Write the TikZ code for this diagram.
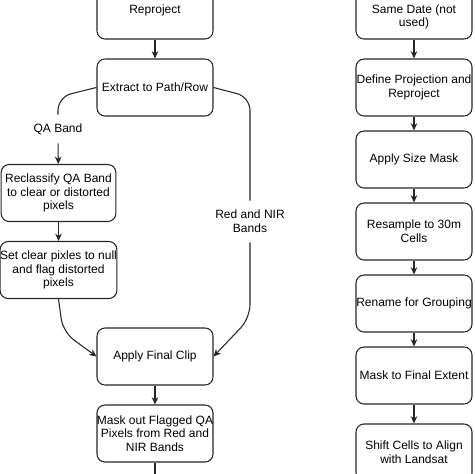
\documentclass[tikz,border=0pt]{standalone}
\usepackage{fontspec}
\setmainfont{Liberation Sans}
\usetikzlibrary{arrows.meta}

\begin{document}
\begin{tikzpicture}[x=0.75pt,y=-0.75pt,font=\fontsize{9}{10.2}\selectfont,
  stepbox/.style={draw=black!85,line width=0.8pt,rounded corners=6pt,minimum width=87pt,minimum height=42.75pt,align=center,inner xsep=0pt},
  lbl/.style={align=center,inner sep=0pt},
  arr/.style={draw=black!85,line width=0.8pt,-{Stealth[length=5.5pt,width=5pt]}},
  link/.style={draw=black!85,line width=0.8pt,rounded corners=10pt}]
\useasboundingbox (0,0) rectangle (474,474);
% left chain
\node[stepbox] (reproj) at (155,10.5) {Reproject};
\node[stepbox] (extract) at (155,87.5) {Extract to Path/Row};
\node[lbl,minimum height=21pt] (qa) at (58,129) {QA Band};
\node[stepbox,minimum width=86pt] (reclass) at (58.5,193) {Reclassify QA Band\\to clear or distorted\\pixels};
\node[stepbox,minimum width=86pt] (setnull) at (58.5,270) {Set clear pixles to null\\and flag distorted\\pixels};
\node[lbl,minimum height=30.75pt] (rednir) at (250,221.5) {Red and NIR\\Bands};
\node[stepbox] (clip) at (155,356.5) {Apply Final Clip};
\node[stepbox] (maskqa) at (155,433.5) {Mask out Flagged QA\\Pixels from Red and\\NIR Bands};
\coordinate (leftout) at (155,495);
% right chain
\node[stepbox] (samedate) at (414,10.5) {};
\node[lbl] at (414,17) {Same Date (not\\used)};
\node[stepbox] (defproj) at (414,87.5) {Define Projection and\\Reproject};
\node[stepbox] (sizemask) at (414,159.5) {Apply Size Mask};
\node[stepbox] (resample) at (414,231.5) {Resample to 30m\\Cells};
\node[stepbox] (rename) at (414,303.5) {Rename for Grouping};
\node[stepbox] (maskext) at (414,375.5) {Mask to Final Extent};
\node[stepbox] (shift) at (414,452.5) {Shift Cells to Align\\with Landsat};

\draw[arr] (reproj) -- (extract);
\draw[link] (extract.west) -- (58,97) -- (qa.north);
\draw[arr] (qa) -- (reclass);
\draw[arr] (reclass) -- (setnull);
\draw[link] (extract.east) -- (250,97) -- (rednir.north);
\draw[link,arr] (setnull.south) -- (63,332) -- (clip.west);
\draw[link,arr] (rednir.south) -- (250,318) -- (clip.east);
\draw[arr] (clip) -- (maskqa);
\draw[arr] (maskqa) -- (leftout);

\draw[arr] (samedate) -- (defproj);
\draw[arr] (defproj) -- (sizemask);
\draw[arr] (sizemask) -- (resample);
\draw[arr] (resample) -- (rename);
\draw[arr] (rename) -- (maskext);
\draw[arr] (maskext) -- (shift);
\end{tikzpicture}
\end{document}
